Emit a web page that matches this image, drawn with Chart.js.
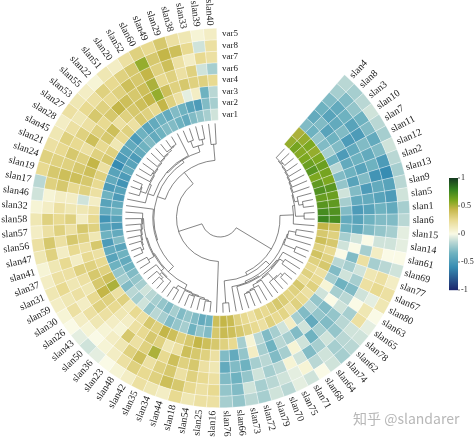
<!DOCTYPE html>
<html>
<head>
<meta charset="utf-8">
<script src="https://cdn.jsdelivr.net/npm/chart.js@4"></script>
<style>
  html, body { margin: 0; padding: 0; background: #fff; }
  #wrap { width: 474px; height: 439px; }
</style>
</head>
<body>
<div id="wrap"><canvas id="myChart" width="474" height="439"></canvas></div>
<script>
// leaf order, clockwise from the gap at the top
const slans = ['slan4','slan8','slan3','slan10','slan7','slan11','slan12','slan2','slan13','slan9','slan5','slan1','slan6','slan15',
  'slan14','slan61','slan69','slan77','slan67','slan80','slan63','slan65','slan78','slan62','slan74','slan64','slan68','slan71','slan75','slan70','slan79','slan72','slan73','slan66',
  'slan76','slan16',
  'slan25','slan54','slan18','slan44','slan34','slan35','slan42','slan48','slan23','slan36','slan50','slan43','slan26','slan30','slan59',
  'slan31','slan37','slan41','slan47','slan56','slan57','slan58','slan32','slan46','slan17','slan19','slan24','slan21','slan45','slan28','slan27','slan53','slan55','slan22','slan51','slan20',
  'slan52','slan60','slan49','slan29','slan38','slan33','slan39','slan40'];

// rings from outside to inside
const varNames = ['var5','var8','var7','var6','var4','var3','var2','var1'];

const var1 = [0.55,0.62,0.58,0.6,0.65,0.7,0.6,0.68,0.72,0.66,0.7,0.75,0.78,0.45,
  0.35,0.4,0.3,0.38,0.3,0.25,0.3,0.22,0.35,0.3,0.28,0.32,0.35,0.3,0.25,0.28,0.2,0.25,0.3,0.42,
  0.45,0.4,
  -0.35,-0.4,-0.3,-0.25,-0.3,-0.2,-0.3,-0.25,-0.2,-0.15,-0.1,-0.2,-0.25,-0.3,-0.35,
  -0.4,-0.35,-0.45,-0.3,-0.4,-0.5,-0.45,-0.35,-0.4,-0.5,-0.45,-0.55,-0.5,-0.4,-0.45,-0.5,-0.4,-0.35,-0.3,-0.4,-0.35,-0.3,
  -0.3,-0.35,-0.4,-0.3,-0.25,-0.2,-0.1];
const var2 = [0.5,0.55,0.6,0.55,0.6,0.65,0.62,0.6,0.7,0.65,0.68,0.72,0.75,0.4,
  0.3,0.35,0.25,0.3,0.35,0.2,0.25,0.3,0.2,0.25,0.3,0.2,0.28,0.25,0.3,0.2,0.25,0.3,0.35,0.4,
  0.42,0.35,
  -0.3,-0.25,-0.35,-0.2,-0.25,-0.3,-0.2,-0.15,-0.25,-0.1,-0.2,-0.15,-0.3,-0.2,-0.25,
  -0.35,-0.45,-0.4,-0.5,-0.35,-0.45,-0.55,-0.4,-0.45,-0.35,-0.5,-0.4,-0.45,-0.6,-0.5,-0.45,-0.4,-0.5,-0.35,-0.45,-0.4,-0.35,
  -0.4,-0.3,-0.35,-0.45,-0.5,-0.3,-0.2];
const var3 = [-0.3,-0.35,-0.25,-0.3,-0.2,-0.35,-0.15,-0.3,-0.25,-0.1,-0.2,-0.3,-0.4,-0.35,
  -0.2,-0.1,0.0,-0.15,-0.3,-0.2,0.05,-0.1,-0.25,-0.15,-0.3,-0.2,0.1,-0.1,-0.2,-0.3,-0.15,0.05,-0.2,0.25,
  0.3,0.35,
  0.4,0.45,0.35,0.3,0.4,0.45,0.3,0.35,0.2,0.25,0.15,0.3,0.2,0.5,0.4,
  0.3,0.25,0.2,0.35,0.15,0.3,0.25,0.2,0.1,0.2,0.25,0.3,0.2,0.35,0.3,0.15,0.25,0.3,0.2,0.35,0.3,0.25,
  0.45,0.3,0.2,-0.05,0.1,-0.35,-0.15];
const var4 = [-0.4,-0.3,-0.45,-0.35,-0.3,-0.5,-0.4,-0.35,-0.45,-0.3,-0.4,-0.5,-0.45,-0.4,
  -0.1,0.0,-0.3,-0.2,-0.1,-0.35,-0.2,0.0,-0.3,-0.25,-0.4,-0.1,-0.3,-0.2,-0.15,-0.35,-0.2,0.1,-0.25,-0.4,
  -0.3,0.2,
  0.3,0.35,0.4,0.2,0.15,0.3,0.35,0.25,0.2,0.1,0.15,0.25,0.3,0.45,0.35,
  0.35,0.3,0.25,0.2,0.3,0.35,0.1,0.15,-0.1,0.3,0.35,0.4,0.45,0.3,0.25,0.35,0.4,0.2,0.3,0.35,0.4,0.45,
  0.55,0.4,0.3,0.35,0.3,0.3,0.25];
const var6 = [-0.35,-0.45,-0.4,-0.3,-0.5,-0.4,-0.35,-0.45,-0.3,-0.5,-0.4,-0.45,-0.35,-0.3,
  0.0,-0.2,0.2,-0.1,-0.2,-0.3,-0.15,-0.1,-0.25,-0.3,-0.2,-0.35,-0.1,0.05,-0.2,-0.3,-0.15,-0.2,-0.35,-0.3,
  -0.4,0.15,
  0.2,0.35,0.3,0.4,0.25,0.5,0.3,0.2,0.35,0.05,0.1,0.2,0.3,0.25,0.15,
  0.2,0.3,0.1,0.25,0.35,0.2,0.3,0.15,0.1,0.25,0.4,0.35,0.3,0.2,0.4,0.3,0.25,0.35,0.45,0.4,0.35,0.4,
  0.5,0.25,0.3,0.2,0.3,-0.1,-0.2];
const var7 = [-0.3,-0.4,-0.35,-0.45,-0.5,-0.3,-0.4,-0.35,-0.55,-0.4,-0.45,-0.35,-0.3,-0.25,
  -0.1,0.1,-0.2,0.15,0.2,-0.1,0.0,-0.2,-0.15,-0.25,-0.1,-0.2,-0.3,-0.1,0.05,-0.15,-0.2,-0.1,-0.25,-0.35,
  -0.3,0.2,
  0.25,0.3,0.2,0.35,0.3,0.2,0.4,0.3,0.15,0.1,0.05,0.15,0.2,0.1,0.2,
  0.15,0.2,0.25,0.1,0.2,0.3,0.25,0.2,0.1,0.35,0.4,0.3,0.35,0.25,0.3,0.2,0.35,0.3,0.25,0.3,0.4,0.35,
  0.45,0.3,0.4,0.2,0.1,0.25,0.2];
const var8 = [-0.2,-0.3,-0.25,-0.35,-0.3,-0.4,-0.3,-0.5,-0.6,-0.45,-0.5,-0.4,-0.3,-0.2,
  -0.1,0.0,-0.15,0.2,0.25,-0.05,0.15,0.2,-0.1,-0.15,-0.2,-0.1,-0.15,0.05,-0.05,-0.1,-0.15,-0.2,-0.1,-0.3,
  -0.25,0.25,
  0.2,0.25,0.35,0.4,0.3,0.25,0.3,0.2,0.1,0.05,0.0,0.05,0.1,0.2,0.15,
  0.25,0.2,0.15,0.3,0.35,0.2,0.3,0.1,0.05,0.3,0.35,0.3,0.25,0.3,0.2,0.15,0.25,0.2,0.3,0.25,0.3,0.35,
  0.55,0.35,0.45,0.4,0.25,-0.1,0.2];
const var5 = [-0.15,-0.2,-0.15,-0.1,-0.15,-0.2,-0.1,-0.15,-0.2,-0.15,-0.1,-0.2,-0.15,-0.05,
  -0.05,0.0,-0.1,0.1,0.2,0.15,0.0,-0.05,-0.1,-0.15,-0.2,-0.1,0.0,-0.1,-0.05,-0.15,-0.1,-0.2,-0.15,-0.25,
  -0.2,0.2,
  0.2,0.15,0.25,0.1,0.15,0.2,0.1,0.05,0.0,-0.05,-0.1,-0.05,0.0,0.05,0.1,
  0.15,0.1,0.05,0.15,0.2,0.1,0.15,0.05,-0.1,-0.15,0.25,0.3,0.2,0.15,0.1,0.2,0.15,0.1,0.05,0.15,0.1,0.2,
  0.3,0.25,0.35,0.2,0.15,0.05,0.1];

const rings = [var5, var8, var7, var6, var4, var3, var2, var1];
const barTicks = [1, 0.5, 0, -0.5, -1];

// colour map
const stops = [
  [-1, [28, 40, 110]], [-0.6, [55, 140, 178]], [-0.35, [110, 178, 192]], [-0.15, [185, 215, 212]], [0, [250, 250, 230]],
  [0.25, [232, 218, 145]], [0.45, [196, 182, 72]], [0.6, [125, 168, 32]], [0.8, [52, 130, 32]], [1, [22, 60, 32]]
];
function colorOf(v) {
  v = Math.max(-1, Math.min(1, v));
  for (let i = 0; i < stops.length - 1; i++) {
    const a = stops[i], b = stops[i + 1];
    if (v <= b[0]) {
      const t = (v - a[0]) / (b[0] - a[0]);
      const c = a[1].map((x, k) => Math.round(x + (b[1][k] - x) * t));
      return `rgb(${c[0]},${c[1]},${c[2]})`;
    }
  }
  return 'rgb(22,60,32)';
}

// simple clustering over neighbours, for the dendrogram
function buildTree() {
  let nodes = slans.map((s, i) => ({ leaf: i, vec: rings.map(r => r[i]), n: 1, h: 0 }));
  while (nodes.length > 1) {
    let best = 0, bd = Infinity;
    for (let i = 0; i < nodes.length - 1; i++) {
      const a = nodes[i].vec, b = nodes[i + 1].vec;
      let d = 0;
      for (let k = 0; k < a.length; k++) d += (a[k] - b[k]) ** 2;
      d = Math.sqrt(d);
      if (d < bd) { bd = d; best = i; }
    }
    const A = nodes[best], B = nodes[best + 1];
    const n = A.n + B.n;
    const merged = {
      kids: [A, B], n: n, h: Math.max(bd, A.h, B.h) + 0.02,
      vec: A.vec.map((x, k) => (x * A.n + B.vec[k] * B.n) / n)
    };
    nodes.splice(best, 2, merged);
  }
  return nodes[0];
}
const tree = buildTree();

const labelPlugin = {
  id: 'decor',
  afterDraw(chart) {
    const ctx = chart.ctx;
    const outer = chart.getDatasetMeta(0).data;
    const inner = chart.getDatasetMeta(rings.length - 1).data;
    const cx = outer[0].x, cy = outer[0].y;
    const R = outer[0].outerRadius, r0 = inner[0].innerRadius;

    // slan labels
    ctx.save();
    ctx.fillStyle = '#222';
    ctx.font = '10px "Liberation Serif", "DejaVu Serif", serif';
    ctx.textBaseline = 'middle';
    outer.forEach((arc, i) => {
      const a = (arc.startAngle + arc.endAngle) / 2;
      ctx.save();
      ctx.translate(cx + Math.cos(a) * (R + 3), cy + Math.sin(a) * (R + 3));
      const deg = ((a * 180 / Math.PI) % 360 + 360) % 360;
      if (deg > 90 && deg < 270) {
        ctx.rotate(a + Math.PI);
        ctx.textAlign = 'right';
      } else {
        ctx.rotate(a);
        ctx.textAlign = 'left';
      }
      ctx.fillText(slans[i], 0, 0);
      ctx.restore();
    });
    ctx.restore();

    // ring names in the gap
    ctx.save();
    ctx.fillStyle = '#222';
    ctx.font = '9px "Liberation Serif", "DejaVu Serif", serif';
    ctx.textBaseline = 'middle';
    ctx.textAlign = 'left';
    rings.forEach((r, k) => {
      const arc = chart.getDatasetMeta(k).data[0];
      const rm = (arc.innerRadius + arc.outerRadius) / 2;
      ctx.fillText(varNames[k], cx + 2, cy - rm);
    });
    ctx.restore();

    // dendrogram
    const leafAng = inner.map(a => (a.startAngle + a.endAngle) / 2);
    const rootH = tree.h;
    const rOf = h => (r0 - 3) - (h / rootH) * (r0 - 22);
    ctx.save();
    ctx.strokeStyle = '#333';
    ctx.lineWidth = 0.6;
    function walk(node) {
      if (node.kids === undefined) {
        node.ang = leafAng[node.leaf];
        node.rad = r0 - 3;
        return;
      }
      node.kids.forEach(walk);
      node.rad = rOf(node.h);
      node.ang = (node.kids[0].ang + node.kids[1].ang) / 2;
      ctx.beginPath();
      node.kids.forEach(k => {
        ctx.moveTo(cx + Math.cos(k.ang) * k.rad, cy + Math.sin(k.ang) * k.rad);
        ctx.lineTo(cx + Math.cos(k.ang) * node.rad, cy + Math.sin(k.ang) * node.rad);
      });
      ctx.moveTo(cx + Math.cos(node.kids[0].ang) * node.rad, cy + Math.sin(node.kids[0].ang) * node.rad);
      ctx.arc(cx, cy, node.rad, node.kids[0].ang, node.kids[1].ang);
      ctx.stroke();
    }
    walk(tree);
    ctx.restore();

    // colour bar
    const bx = 449, by = 178, bw = 9, bh = 112;
    ctx.save();
    for (let p = 0; p < bh; p++) {
      ctx.fillStyle = colorOf(1 - 2 * p / (bh - 1));
      ctx.fillRect(bx, by + p, bw, 1.2);
    }
    ctx.fillStyle = '#222';
    ctx.font = '8px "Liberation Serif", "DejaVu Serif", serif';
    ctx.textBaseline = 'middle';
    ctx.textAlign = 'left';
    barTicks.forEach(t => {
      const y = by + (1 - t) / 2 * bh;
      ctx.fillRect(bx + bw, y - 0.3, 2, 0.6);
      ctx.fillText(String(t), bx + bw + 3, y);
    });
    ctx.restore();

    // watermark
    ctx.save();
    ctx.fillStyle = 'rgba(170,170,170,0.85)';
    ctx.font = '14px "Noto Sans CJK SC", "Noto Sans", sans-serif';
    ctx.textBaseline = 'middle';
    ctx.fillText('知乎 @slandarer', 353, 419);
    ctx.restore();
  }
};

const ctx = document.getElementById('myChart').getContext('2d');
const myChart = new Chart(ctx, {
  type: 'doughnut',
  data: {
    labels: slans,
    datasets: rings.map((vals, k) => ({
      label: varNames[k],
      data: vals.map(() => 1),
      backgroundColor: vals.map(colorOf),
      borderColor: 'rgba(255,255,255,0.6)',
      borderWidth: 0.5
    }))
  },
  options: {
    responsive: false,
    animation: false,
    rotation: 41,
    circumference: 318,
    cutout: '51.5%',
    layout: { padding: { left: 30, right: 64, top: 28, bottom: 31 } },
    plugins: { legend: { display: false }, tooltip: { enabled: false } }
  },
  plugins: [labelPlugin]
});
</script>
</body>
</html>
